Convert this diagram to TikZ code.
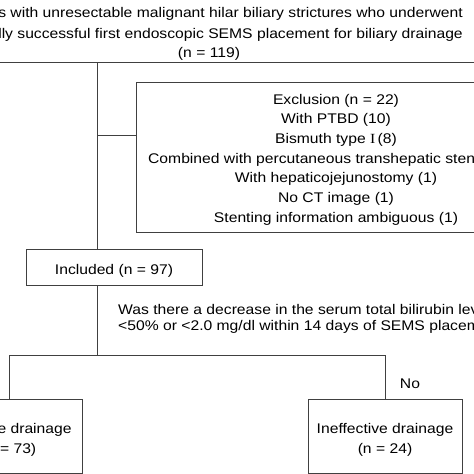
\documentclass[tikz,border=0pt]{standalone}
\usepackage{fontspec}
\setmainfont[FakeStretch=1.12]{Liberation Sans}
\newfontfamily\romfont[FakeStretch=1.12]{Liberation Serif}
\begin{document}
\begin{tikzpicture}[x=1pt,y=-1pt,
  box/.style={draw=black!75,line width=1pt,rectangle,inner sep=0pt},
  txt/.style={anchor=base,inner sep=0pt,font=\fontsize{14}{16}\selectfont,text=black},
  ltxt/.style={txt,anchor=base west},
  rtxt/.style={txt,anchor=base east},
  link/.style={draw=black!75,line width=1pt}]
\useasboundingbox (0,0) rectangle (474,474);
\clip (0,0) rectangle (474,474);
% top box
\node[box,minimum width=600pt,minimum height=90pt] (top) at (235,17) {};
\node[rtxt] (t1) at (463,17) {Patients with unresectable malignant hilar biliary strictures who underwent};
\node[rtxt] (t2) at (463,38) {technically successful first endoscopic SEMS placement for biliary drainage};
\node[txt] (t3) at (209,57) {(n = 119)};
% exclusion box
\node[box,minimum width=400pt,minimum height=150pt] (excl) at (336,157) {};
\node[txt] (e1) at (336,104) {Exclusion (n = 22)};
\node[txt] (e2) at (336,123.7) {With PTBD (10)};
\node[txt] (e3) at (336,143.4) {Bismuth type {\romfont I}\,(8)};
\node[txt] (e4) at (336,163) {Combined with percutaneous transhepatic stenting (1)};
\node[txt] (e5) at (336,182.8) {With hepaticojejunostomy (1)};
\node[txt] (e6) at (336,202.5) {No CT image (1)};
\node[txt] (e7) at (336,222.2) {Stenting information ambiguous (1)};
% included
\node[box,minimum width=176pt,minimum height=36pt] (incl) at (114,267) {};
\node[txt] (i1) at (114,274) {Included (n = 97)};
% question
\node[ltxt] (q1) at (118,314) {Was there a decrease in the serum total bilirubin level to};
\node[ltxt] (q2) at (118,330) {<50\% or <2.0 mg/dl within 14 days of SEMS placement?};
% outcome boxes
\node[box,minimum width=146pt,minimum height=74pt] (eff) at (9,436) {};
\node[txt] (f1) at (9,433) {Effective drainage};
\node[txt] (f2) at (9,453) {(n = 73)};
\node[box,minimum width=154pt,minimum height=74pt] (ineff) at (385,436) {};
\node[txt] (g1) at (385,433) {Ineffective drainage};
\node[txt] (g2) at (385,453) {(n = 24)};
\node[txt] (no) at (410,388) {No};
% connectors
\coordinate (mx) at (97,0);
\coordinate (j1) at (97,135);
\coordinate (split) at (97,355);
\draw[link] (top.south -| mx) -- (incl.north -| mx);
\draw[link] (j1) -- (j1 -| excl.west);
\draw[link] (incl.south -| mx) -- (split);
\draw[link] (eff.north) -- (eff.north |- split) -- (ineff.north |- split) -- (ineff.north);
\end{tikzpicture}
\end{document}
